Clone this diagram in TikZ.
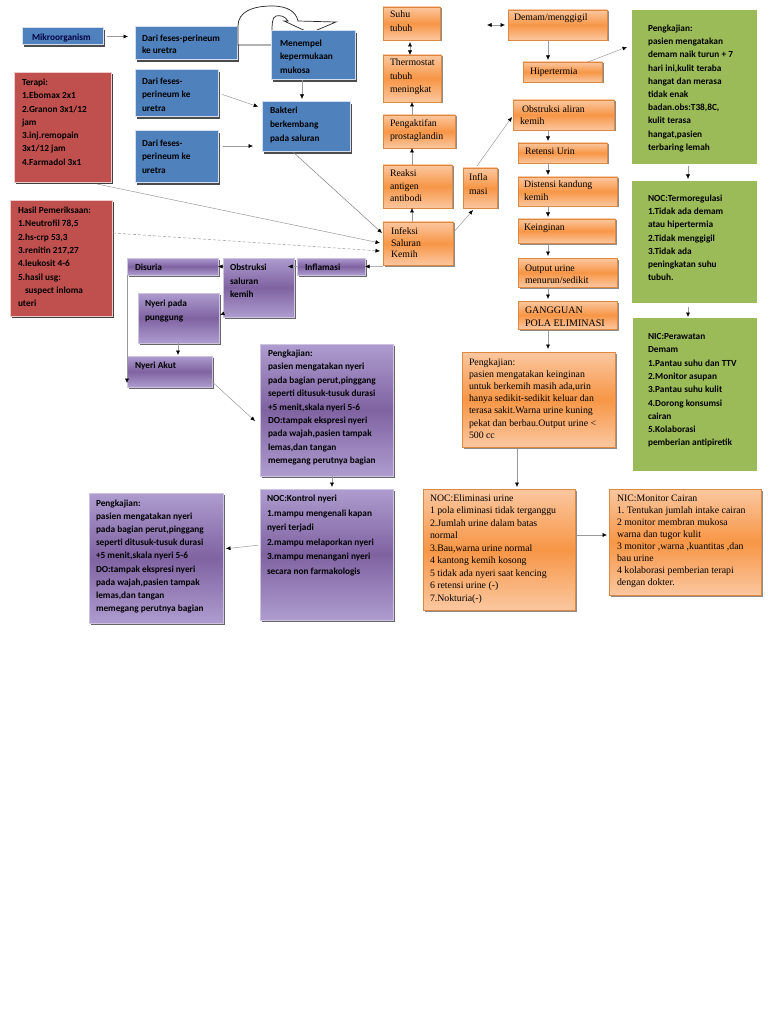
\documentclass[tikz,border=0pt]{standalone}
\usepackage{fontspec}
\setmainfont{Liberation Serif}
\setsansfont{Carlito}
\usepackage{tikz}
\usetikzlibrary{arrows.meta,shadows,calc}
\definecolor{boxblue}{HTML}{4F81BD}
\definecolor{boxred}{HTML}{C0504D}
\definecolor{boxgreen}{HTML}{9BBB59}
\definecolor{orlight}{HTML}{FBC7A0}
\definecolor{ormid}{HTML}{F79646}
\definecolor{pulight}{HTML}{AE9CCF}
\definecolor{pumid}{HTML}{7F63A1}
\frenchspacing
\newcommand{\bxsans}[1]{\sffamily\bfseries\fontsize{9.3}{#1}\selectfont}
\newcommand{\bxserif}[1]{\rmfamily\fontsize{9.8}{#1}\selectfont}
\tikzset{
  bx/.style n args={4}{rectangle, anchor=north west, inner sep=0pt, outer sep=0pt,
                align=flush left, text=black, text width=#1pt, minimum width=#1pt,
                text height=#4pt, text depth=#2pt-#4pt,
                execute at begin node={\leftskip=#3pt\relax}},
  bluebox/.style={draw=white!75!boxblue, line width=1pt, fill=boxblue, font=\bxsans{13.5},
                drop shadow={shadow xshift=1.8pt, shadow yshift=-1.8pt, fill=black!70, opacity=1}},
  redbox/.style ={draw=white!70!boxred, line width=0.8pt, fill=boxred, font=\bxsans{13.3},
                drop shadow={shadow xshift=2pt, shadow yshift=-2pt, fill=black!75, opacity=1}},
  grbox/.style  ={fill=boxgreen, font=\bxsans{13.2}},
  orbox/.style  ={top color=orlight, bottom color=orlight, middle color=ormid,
                draw=ormid!90!black, line width=0.4pt, font=\bxserif{12.5},
                drop shadow={shadow xshift=1.5pt, shadow yshift=-1.5pt, fill=black!45, opacity=1}},
  pubox/.style  ={top color=pulight, bottom color=pulight, middle color=pumid,
                draw=pulight!60!white, line width=0.5pt, font=\bxsans{13.4},
                drop shadow={shadow xshift=1.5pt, shadow yshift=-1.5pt, fill=black!60, opacity=1}},
  bendarr/.style={draw=black!85, fill=white, line width=0.7pt},
  >={Latex[length=4.5pt,width=4pt,color=black]},
  arr/.style    ={->, draw=black!40, line width=0.5pt},
  darr/.style   ={arr, densely dashed},
  dblarr/.style ={<->, draw=black!40, line width=0.5pt},
}

\begin{document}
\begin{tikzpicture}[x=1pt,y=-1pt]
  \path[use as bounding box, fill=white] (0,0) rectangle (768,1024);

  \node[bluebox, bx={81}{17}{10}{13}, text=blue!25!black] (mik) at (22,28) {Mikroorganism};
  \node[bluebox, bx={102}{33}{7}{14.5}, font=\bxsans{12.5}] (fes1) at (135,27) {Dari feses-perineum\\ke uretra};
  \draw[bendarr] (238,45) -- (238,26) .. controls (238,12) and (252,6) .. (272,6)
      .. controls (288,6) and (296,12) .. (298,21) -- (336,22) -- (310,33) -- (284,21) -- (288,21)
      .. controls (285,16) and (280,15) .. (276,16) .. controls (272,17) and (272,25) .. (272,32)
      -- (272,45) -- cycle;
  \node[bluebox, bx={84}{49}{9}{15.5}] (tempel) at (271,31) {Menempel\\kepermukaan\\mukosa};
  \node[bluebox, bx={83}{47}{7}{14.5}] (fes2) at (135,70) {Dari feses-\\perineum ke\\uretra};
  \node[bluebox, bx={83}{52}{7}{15.5}] (fes3) at (135,131) {Dari feses-\\perineum ke\\uretra};
  \node[bluebox, bx={88}{50}{8}{11.5}, font=\bxsans{14}] (bakteri) at (262,102) {Bakteri\\berkembang\\pada saluran};

  \node[redbox, bx={97}{110}{8}{13.5}] (terapi) at (14,72)
    {Terapi:\\1.Ebomax 2x1\\2.Granon 3x1/12\\jam\\3.inj.remopain\\3x1/12 jam\\4.Farmadol 3x1};
  \node[redbox, bx={102}{116}{8}{13.5}] (hasil) at (10,200)
    {Hasil Pemeriksaan:\\1.Neutrofil 78,5\\2.hs-crp 53,3\\3.renitin 217,27\\4.leukosit 4-6\\5.hasil usg:\\\hspace*{7pt}suspect inloma\\uteri};

  \node[grbox, bx={125}{154}{16}{21.5}] (gkaji) at (632,10)
    {Pengkajian:\\pasien mengatakan\\demam naik turun + 7\\hari ini,kulit teraba\\hangat dan merasa\\tidak enak\\badan.obs:T38,8C,\\kulit terasa\\hangat,pasien\\terbaring lemah};
  \node[grbox, bx={125}{122}{16}{20.5}] (gnoc) at (632,181)
    {NOC:Termoregulasi\\1.Tidak ada demam\\atau hipertermia\\2.Tidak menggigil\\3.Tidak ada\\peningkatan suhu\\tubuh.};
  \node[grbox, bx={124}{153}{15}{21.5}, font=\bxsans{13.3}] (gnic) at (633,318)
    {NIC:Perawatan\\Demam\\1.Pantau suhu dan TTV\\2.Monitor asupan\\3.Pantau suhu kulit\\4.Dorong konsumsi\\cairan\\5.Kolaborasi\\pemberian antipiretik};

  \node[orbox, bx={57}{33}{7}{11}, font=\bxserif{13.5}] (suhu) at (383,7) {Suhu\\tubuh};
  \node[orbox, bx={58}{47}{7}{11}, font=\bxserif{13.5}] (thermo) at (383,55) {Thermostat\\tubuh\\meningkat};
  \node[orbox, bx={72}{33}{7}{12}, font=\bxserif{13}] (prosta) at (383,115) {Pengaktifan\\prostaglandin};
  \node[orbox, bx={69}{43}{7}{12}] (reaksi) at (383,165) {Reaksi\\antigen\\antibodi};
  \node[orbox, bx={34}{40}{6}{13}, font=\bxserif{14}] (infla) at (463,168) {Infla\\masi};
  \node[orbox, bx={70}{43}{8}{12}, font=\bxserif{12}] (isk) at (383,222) {Infeksi\\Saluran\\Kemih};
  \node[orbox, bx={99}{30}{6}{11}] (demam) at (508,10) {Demam/menggigil};
  \node[orbox, bx={79}{20}{7}{13}] (hiper) at (523,62) {Hipertermia};
  \node[orbox, bx={101}{30}{7}{13}, font=\bxserif{12}] (obsalir) at (513,100) {\hspace*{2pt}Obstruksi aliran\\kemih};
  \node[orbox, bx={89}{20}{7}{12}] (retensi) at (518,143) {Retensi Urin};
  \node[orbox, bx={99}{29}{6}{11}, font=\bxserif{13}] (distensi) at (518,177) {Distensi kandung\\kemih};
  \node[orbox, bx={97}{24}{6}{12}] (ingin) at (518,219) {Keinginan};
  \node[orbox, bx={99}{29}{7}{13}] (output) at (518,258) {Output urine\\menurun/sedikit};
  \node[orbox, bx={99}{28}{7}{12}, font=\rmfamily\fontsize{10}{13}\selectfont] (gangg) at (518,301) {GANGGUAN\\POLA ELIMINASI};
  \node[orbox, bx={153}{95}{7}{13}, font=\bxserif{12.2}] (okaji) at (462,352)
    {Pengkajian:\\pasien mengatakan keinginan\\untuk berkemih masih ada,urin\\hanya sedikit-sedikit keluar dan\\terasa sakit.Warna urine kuning\\pekat dan berbau.Output urine <\\500 cc};
  \node[orbox, bx={152}{121}{7}{12}] (onoc) at (423,489)
    {NOC:Eliminasi urine\\1 pola eliminasi tidak terganggu\\2.Jumlah urine dalam batas\\normal\\3.Bau,warna urine normal\\4 kantong kemih kosong\\5 tidak ada nyeri saat kencing\\6 retensi urine (-)\\7.Nokturia(-)};
  \node[orbox, bx={152}{106}{8}{12}, font=\bxserif{12}] (onic) at (609,489)
    {NIC:Monitor Cairan\\1. Tentukan jumlah intake cairan\\2 monitor membran mukosa\\warna dan tugor kulit\\3 monitor ,warna ,kuantitas ,dan\\bau urine\\4 kolaborasi pemberian terapi\\dengan dokter.};

  \node[pubox, bx={91}{17}{8}{12.5}] (disuria) at (127,258) {Disuria};
  \node[pubox, bx={71}{59}{7}{12.5}, font=\bxsans{13.5}] (obsal) at (223,258) {Obstruksi\\saluran\\kemih};
  \node[pubox, bx={68}{17}{8}{12.5}] (inflam) at (297,258) {Inflamasi};
  \node[pubox, bx={81}{50}{7}{13.5}, font=\bxsans{14}] (punggung) at (138,293) {Nyeri pada\\punggung};
  \node[pubox, bx={85}{31}{8}{12.5}] (akut) at (127,356) {Nyeri Akut};
  \node[pubox, bx={133}{132}{8}{12.5}] (pkaji1) at (260,344)
    {Pengkajian:\\pasien mengatakan nyeri\\pada bagian perut,pinggang\\seperti ditusuk-tusuk durasi\\+5 menit,skala nyeri 5-6\\DO:tampak ekspresi nyeri\\pada wajah,pasien tampak\\lemas,dan tangan\\memegang perutnya bagian};
  \node[pubox, bx={133}{131}{7}{12.5}, font=\bxsans{14.5}] (pnoc) at (260,489)
    {NOC:Kontrol nyeri\\1.mampu mengenali kapan\\nyeri terjadi\\2.mampu melaporkan nyeri\\3.mampu menangani nyeri\\secara non farmakologis};
  \node[pubox, bx={134}{130}{7}{13.5}, font=\bxsans{13.1}] (pkaji2) at (89,493)
    {Pengkajian:\\pasien mengatakan nyeri\\pada bagian perut,pinggang\\seperti ditusuk-tusuk durasi\\+5 menit,skala nyeri 5-6\\DO:tampak ekspresi nyeri\\pada wajah,pasien tampak\\lemas,dan tangan\\memegang perutnya bagian};

  \draw[arr, shorten <=4pt, shorten >=7pt] (mik.east) -- (fes1.west |- mik.east);
  \draw[arr, shorten <=4pt, shorten >=4pt] ($(fes2.north east)+(0,23)$) -- ($(bakteri.north west)+(0,6)$);
  \draw[arr, shorten <=5pt, shorten >=9pt] ($(fes3.north east)+(0,15)$) -- ($(bakteri.north west)+(0,44)$);
  \draw[arr, shorten >=3pt] ($(tempel.south west)+(31,0)$) -- ($(bakteri.north west)+(40,0)$);
  \draw[arr, draw=black!50] ($(bakteri.south west)+(31,0)$) -- ($(isk.north west)+(-1,11)$);
  \draw[arr] ($(terapi.south west)+(83,2)$) -- ($(isk.north west)+(-3,21)$);
  \draw[darr] ($(hasil.north east)+(1,33)$) -- ($(isk.north west)+(-3,29)$);
  \draw[arr] ($(isk.north west)+(29,0)$) -- ($(reaksi.south west)+(29,0)$);
  \draw[arr] ($(reaksi.north west)+(29,0)$) -- ($(prosta.south west)+(29,0)$);
  \draw[arr] ($(prosta.north west)+(29,0)$) -- ($(thermo.south west)+(29,0)$);
  \draw[dblarr] ($(thermo.north west)+(27,0)$) -- ($(suhu.south west)+(27,2)$);
  \draw[dblarr] ($(demam.west)+(-21,0)$) -- ($(demam.west)+(-3,0)$);
  \draw[arr, shorten >=2pt] ($(demam.south west)+(40,0)$) -- ($(hiper.north west)+(25,0)$);
  \draw[arr] ($(hiper.north west)+(65,0)$) -- ($(gkaji.north west)+(-5,37)$);
  \draw[arr] ($(isk.north east)+(0,11)$) -- ($(infla.south west)+(10,2)$);
  \draw[arr] ($(infla.north west)+(14,-2)$) -- ($(obsalir.south west)+(-1,-13)$);
  \draw[arr, shorten >=2pt] ($(obsalir.south west)+(35,0)$) -- ($(retensi.north west)+(30,0)$);
  \draw[arr, shorten >=2pt] ($(retensi.south west)+(30,0)$) -- ($(distensi.north west)+(30,0)$);
  \draw[arr, shorten >=2pt] ($(distensi.south west)+(30,0)$) -- ($(ingin.north west)+(30,0)$);
  \draw[arr, shorten >=2pt] ($(ingin.south west)+(30,0)$) -- ($(output.north west)+(30,0)$);
  \draw[arr, shorten >=2pt] ($(output.south west)+(30,0)$) -- ($(gangg.north west)+(30,0)$);
  \draw[arr, shorten >=3pt] ($(gangg.south west)+(30,2)$) -- ($(okaji.north west)+(86,0)$);
  \draw[arr, shorten >=2pt] ($(okaji.south west)+(55,2)$) -- ($(onoc.north west)+(94,0)$);
  \draw[arr, shorten <=2pt, shorten >=2pt] ($(onoc.north east)+(0,46)$) -- ($(onic.north west)+(0,46)$);
  \draw[arr, shorten >=2pt] ($(gkaji.south west)+(56,2)$) -- ($(gnoc.north west)+(56,0)$);
  \draw[arr, shorten >=1pt] ($(gnoc.south west)+(56,4)$) -- ($(gnic.north west)+(55,0)$);
  \draw[arr, draw=blue!15!black!30] ($(isk.south west)+(0,1.5)$) -- (inflam.east);
  \draw[arr] (inflam.west) -- ($(obsal.north east)+(-6,8.5)$);
  \draw[arr] ($(obsal.north west)+(1,8.5)$) -- (disuria.east);
  \draw[arr] ($(obsal.south west)+(10,-7)$) -- ($(punggung.north east)+(1,22)$);
  \draw[arr, shorten >=1pt] ($(punggung.south west)+(40,0)$) -- ($(akut.north west)+(51,0)$);
  \draw[arr] (disuria.south west) -- ($(akut.south west)+(0,-4)$);
  \draw[arr] ($(akut.south east)+(-4,-9)$) -- ($(pkaji1.north west)+(-5,77)$);
  \draw[arr, shorten >=2pt] ($(pkaji1.south west)+(72,0)$) -- ($(pnoc.north west)+(72,0)$);
  \draw[arr, shorten <=2pt, shorten >=3pt] ($(pnoc.north west)+(0,56)$) -- ($(pkaji2.north east)+(0,56)$);
\end{tikzpicture}
\end{document}
